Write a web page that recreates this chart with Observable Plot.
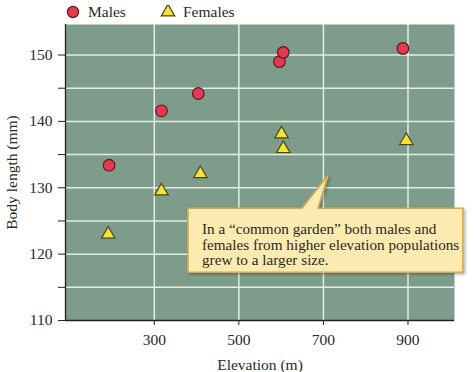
<!DOCTYPE html>
<html><head><meta charset="utf-8">
<script src="https://cdn.jsdelivr.net/npm/d3@7"></script>
<script src="https://cdn.jsdelivr.net/npm/@observablehq/plot@0.6"></script>
<style>
html,body{margin:0;padding:0;background:#fff;}
#wrap{position:relative;width:474px;height:372px;font-family:"Liberation Serif","DejaVu Serif",serif;color:#2a2a2a;overflow:hidden;}
#legend{position:absolute;left:0;top:0;width:474px;height:24px;}
.item{position:absolute;top:3px;font-size:15.5px;line-height:18px;display:flex;align-items:center;}
</style></head><body>
<div id="wrap"><div id="chart"></div><div id="legend"></div></div>
<script>
// ---- data ----
const maleElevation = [193, 317, 404, 596, 605, 888];
const maleLength    = [133.4, 141.6, 144.2, 149.0, 150.4, 151.0];
const femaleElevation = [191, 317, 409, 601, 605, 896];
const femaleLength    = [123.0, 129.5, 132.1, 138.1, 135.9, 137.1];
const xTickValues = [300, 500, 700, 900];
const yTickValues = [110, 120, 130, 140, 150];
const yMinorTicks = [115, 125, 135, 145];
const seriesNames = ["Males", "Females"];
const noteLines = [
  "In a \u201ccommon garden\u201d both males and",
  "females from higher elevation populations",
  "grew to a larger size."
];
const noteAnchorElevation = 712;
const noteAnchorLength = 131.8;

const males = maleElevation.map((e, i) => ({elevation: e, length: maleLength[i]}));
const females = femaleElevation.map((e, i) => ({elevation: e, length: femaleLength[i]}));

const GREEN = "#7e9c8b", GRID = "#e9f2ea";
const MALE_FILL = "#e8384f", MALE_STROKE = "#5b1b22";
const FEMALE_FILL = "#f3e23a", FEMALE_STROKE = "#4b4718";
const FONT = "Liberation Serif";

const chart = Plot.plot({
  width: 474, height: 372,
  marginTop: 24, marginLeft: 65, marginRight: 20, marginBottom: 52,
  style: {fontFamily: FONT, fontSize: "15px", color: "#2a2a2a", background: "transparent", overflow: "visible"},
  x: {domain: [90, 1010]},
  y: {domain: [110, 154.6]},
  marks: [
    Plot.frame({fill: GREEN, stroke: null}),
    Plot.gridY(yTickValues.concat(yMinorTicks).filter(d => d > 110), {stroke: GRID, strokeOpacity: 0.95, strokeWidth: 1.5}),
    Plot.gridX(xTickValues, {stroke: GRID, strokeOpacity: 0.95, strokeWidth: 1.5}),
    Plot.axisX(xTickValues, {tickSize: 5, tickPadding: 8, fontSize: 15.5, fontFamily: FONT, stroke: "#222",
      label: "Elevation (m)", labelAnchor: "center", labelArrow: "none", labelOffset: 49}),
    Plot.axisY(yTickValues, {tickSize: 7, tickPadding: 6, fontSize: 15.5, fontFamily: FONT, stroke: "#222",
      label: "Body length (mm)", labelAnchor: "center", labelArrow: "none", labelOffset: 60}),
    Plot.tickY(yMinorTicks, {y: d => d, render: (index, scales, values, dims) => {
      const g = d3.create("svg:g");
      for (const i of index) g.append("line").attr("x1", dims.marginLeft - 7).attr("x2", dims.marginLeft)
        .attr("y1", values.y[i] + 0.5).attr("y2", values.y[i] + 0.5).attr("stroke", "#222");
      return g.node();
    }}),
    Plot.ruleX([90], {stroke: "#222", strokeWidth: 1.3}),
    Plot.ruleY([110], {stroke: "#222", strokeWidth: 1.3}),
    Plot.dot(males, {x: "elevation", y: "length", r: 5.8, symbol: "circle", fill: MALE_FILL, stroke: MALE_STROKE, strokeWidth: 1.2}),
    Plot.dot(females, {x: "elevation", y: "length", r: 5, symbol: "triangle", fill: FEMALE_FILL, stroke: FEMALE_STROKE, strokeWidth: 1.2})
  ]
});
document.getElementById("chart").appendChild(chart);

// ---- annotation callout, anchored through the chart's scales ----
const tx = chart.scale("x").apply(noteAnchorElevation);
const ty = chart.scale("y").apply(noteAnchorLength);
const svg = d3.select(chart);
const defs = svg.append("defs");
const f = defs.append("filter").attr("id", "shadow").attr("x", "-10%").attr("y", "-10%").attr("width", "130%").attr("height", "140%");
f.append("feDropShadow").attr("dx", 1.5).attr("dy", 1.5).attr("stdDeviation", 1.5).attr("flood-color", "#000").attr("flood-opacity", 0.3);
const L = tx - 140, R = tx + 135, T = ty + 33, B = ty + 97;
const note = svg.append("g");
note.append("path")
  .attr("d", `M${L},${T}H${tx - 26}L${tx},${ty}L${tx - 10},${T}H${R}V${B}H${L}Z`)
  .attr("fill", "#fcebb0").attr("stroke", "#d2aa52").attr("stroke-width", 1.6).attr("filter", "url(#shadow)");
const text = note.append("text").attr("font-family", FONT).attr("font-size", 15.2)
  .attr("text-anchor", "start").attr("fill", "#2b2a1e");
noteLines.forEach((line, i) => text.append("tspan").attr("x", L + 14).attr("y", ty + 59 + i * 15.5).text(line));

// ---- legend ----
const legend = document.getElementById("legend");
const swatches = [
  `<svg width="14" height="14" viewBox="-7 -7 14 14"><circle r="5.6" fill="${MALE_FILL}" stroke="${MALE_STROKE}" stroke-width="1.2"/></svg>`,
  `<svg width="16" height="14" viewBox="-8 -7 16 14"><path d="${d3.symbol(d3.symbolTriangle, Math.PI * 25)()}" fill="${FEMALE_FILL}" stroke="${FEMALE_STROKE}" stroke-width="1.2"/></svg>`
];
const lefts = [66, 160];
seriesNames.forEach((name, i) => {
  const d = document.createElement("div");
  d.className = "item";
  d.style.left = lefts[i] + "px";
  d.innerHTML = swatches[i] + `<span style="margin-left:${i ? 7 : 8}px">${name}</span>`;
  legend.appendChild(d);
});
</script>
</body></html>
